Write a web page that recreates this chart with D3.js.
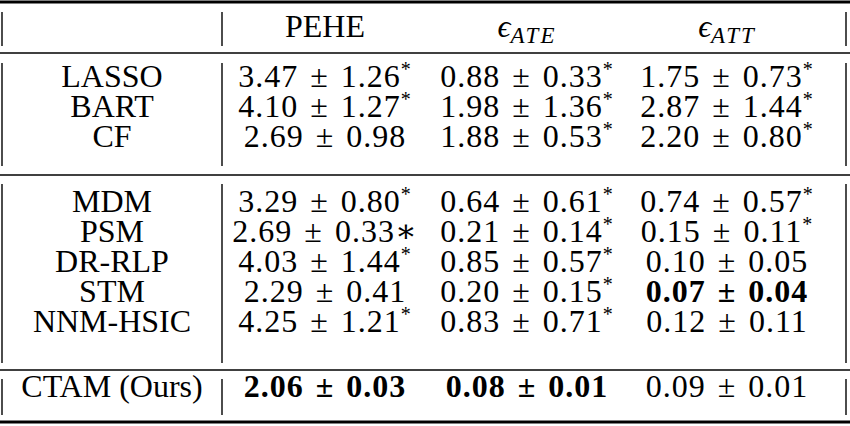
<!DOCTYPE html>
<html>
<head>
<meta charset="utf-8">
<script src="https://cdn.jsdelivr.net/npm/d3@7"></script>
<style>
  body { margin: 0; background: #fff; }
  svg text { font-family: "Liberation Serif", "DejaVu Serif", serif; fill: #000; }
</style>
</head>
<body>
<div id="chart"></div>
<script>
// Table data
const methods = ['LASSO', 'BART', 'CF', 'MDM', 'PSM', 'DR-RLP', 'STM', 'NNM-HSIC', 'CTAM (Ours)'];
const groups = [0, 0, 0, 1, 1, 1, 1, 1, 2];
const pehe = ['3.47 ± 1.26', '4.10 ± 1.27', '2.69 ± 0.98', '3.29 ± 0.80', '2.69 ± 0.33', '4.03 ± 1.44', '2.29 ± 0.41', '4.25 ± 1.21', '2.06 ± 0.03'];
const ate = ['0.88 ± 0.33', '1.98 ± 1.36', '1.88 ± 0.53', '0.64 ± 0.61', '0.21 ± 0.14', '0.85 ± 0.57', '0.20 ± 0.15', '0.83 ± 0.71', '0.08 ± 0.01'];
const att = ['1.75 ± 0.73', '2.87 ± 1.44', '2.20 ± 0.80', '0.74 ± 0.57', '0.15 ± 0.11', '0.10 ± 0.05', '0.07 ± 0.04', '0.12 ± 0.11', '0.09 ± 0.01'];
// significance marks: 1 = superscript star, 2 = inline star
const peheStar = [1, 1, 0, 1, 2, 1, 0, 1, 0];
const ateStar = [1, 1, 1, 1, 1, 1, 1, 1, 0];
const attStar = [1, 1, 1, 1, 1, 0, 0, 0, 0];
const peheBold = [0, 0, 0, 0, 0, 0, 0, 0, 1];
const ateBold = [0, 0, 0, 0, 0, 0, 0, 0, 1];
const attBold = [0, 0, 0, 0, 0, 0, 1, 0, 0];
const headers = ['', 'PEHE', 'ATE', 'ATT'];

const width = 850, height = 426;
const fontSize = 32;

const svg = d3.select('#chart').append('svg')
    .attr('width', width)
    .attr('height', height);

// Column centres and row baselines
const x = d3.scaleOrdinal().domain(d3.range(4)).range([112, 325, 527, 727]);
const y = d3.scaleLinear().domain([0, 1]).range([87, 117]);
const groupGap = 35;
const rowY = i => y(i) + groups[i] * groupGap;

// Horizontal rules
const rules = [
    {y: 2, w: 3},
    {y: 53, w: 1.6},
    {y: 175, w: 1.6},
    {y: 370, w: 1.6},
    {y: 422, w: 3}
];
svg.selectAll('.rule')
    .data(rules)
    .enter()
    .append('line')
    .attr('class', 'rule')
    .attr('x1', 0).attr('x2', width)
    .attr('y1', d => d.y).attr('y2', d => d.y)
    .attr('stroke', '#000')
    .attr('stroke-width', d => d.w);

// Vertical rules per block
const blocks = [[12, 46], [63, 166], [184, 363], [379, 415]];
blocks.forEach(b => {
    [2, 222, 846].forEach(vx => {
        svg.append('line')
            .attr('x1', vx).attr('x2', vx)
            .attr('y1', b[0]).attr('y2', b[1])
            .attr('stroke', '#000')
            .attr('stroke-width', 1.4);
    });
});

// Headers
svg.append('text')
    .attr('x', x(1)).attr('y', 37)
    .attr('text-anchor', 'middle')
    .style('font-size', fontSize + 'px')
    .text(headers[1]);

[2, 3].forEach(c => {
    const t = svg.append('text')
        .attr('x', x(c)).attr('y', 37)
        .attr('text-anchor', 'middle')
        .style('font-size', fontSize + 'px');
    t.append('tspan').style('font-style', 'italic').text('ϵ');
    t.append('tspan')
        .attr('dy', 6)
        .style('font-style', 'italic')
        .style('font-size', '23px')
        .style('letter-spacing', '2px')
        .text(headers[c]);
});

// Method labels
svg.selectAll('.method')
    .data(methods)
    .enter()
    .append('text')
    .attr('class', 'method')
    .attr('x', x(0))
    .attr('y', (d, i) => rowY(i))
    .attr('text-anchor', 'middle')
    .style('font-size', fontSize + 'px')
    .text(d => d);

// Value cells
function drawColumn(col, values, stars, bolds) {
    values.forEach((v, i) => {
        const t = svg.append('text')
            .attr('x', x(col))
            .attr('y', rowY(i))
            .attr('text-anchor', 'middle')
            .style('font-size', fontSize + 'px')
            .style('font-weight', bolds[i] ? 'bold' : 'normal')
            .style('letter-spacing', '1px')
            .style('word-spacing', '3px')
            .text(v);
        if (stars[i] === 1) {
            t.append('tspan')
                .attr('dy', -11)
                .style('font-size', '20px')
                .style('font-weight', 'normal')
                .text('*');
        } else if (stars[i] === 2) {
            t.append('tspan')
                .style('font-weight', 'normal')
                .text('∗');
        }
    });
}
drawColumn(1, pehe, peheStar, peheBold);
drawColumn(2, ate, ateStar, ateBold);
drawColumn(3, att, attStar, attBold);
</script>
</body>
</html>
